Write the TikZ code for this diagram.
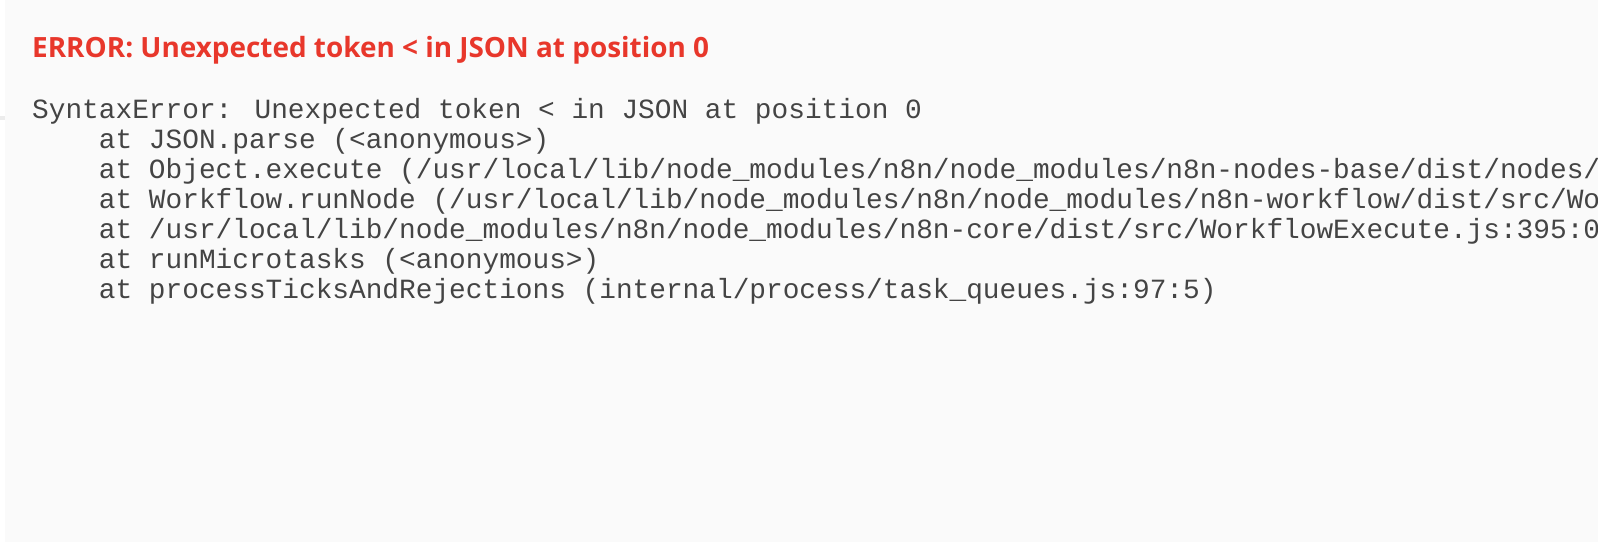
\documentclass[tikz,border=0pt]{standalone}
\usepackage{fontspec}
\setmainfont{Open Sans}
\newfontfamily\codefont{Liberation Mono}
\definecolor{bg}{HTML}{FAFAFA}
\definecolor{errred}{HTML}{E8372B}
\definecolor{codegray}{HTML}{444444}
\begin{document}
\begin{tikzpicture}[x=1pt,y=-1pt,
  title/.style={anchor=base west,inner sep=0pt,text=errred,font=\fontsize{27.9}{32}\selectfont\bfseries},
  code/.style={anchor=base west,inner sep=0pt,text=codegray,font=\codefont\fontsize{27.8}{30}\selectfont}]
\useasboundingbox (0,0) rectangle (1598,542);
\clip (0,0) rectangle (1598,542);
\fill[bg] (0,0) rectangle (1598,542);
\fill[white] (0,0) rectangle (5,542);
\fill[gray!15] (0,116) rectangle (5,120);
\node[title] (t) at (32,57) {ERROR: Unexpected token < in JSON at position 0};
\node[code] (l1) at (32,118) {SyntaxError: Unexpected token < in JSON at position 0};
\node[code] (l2) at (32,148) {\ \ \ \ at JSON.parse (<anonymous>)};
\node[code] (l3) at (32,178) {\ \ \ \ at Object.execute (/usr/local/lib/node\_modules/n8n/node\_modules/n8n-nodes-base/dist/nodes/};
\node[code] (l4) at (32,208) {\ \ \ \ at Workflow.runNode (/usr/local/lib/node\_modules/n8n/node\_modules/n8n-workflow/dist/src/Workflow};
\node[code] (l5) at (32,238) {\ \ \ \ at /usr/local/lib/node\_modules/n8n/node\_modules/n8n-core/dist/src/WorkflowExecute.js:395:0};
\node[code] (l6) at (32,268) {\ \ \ \ at runMicrotasks (<anonymous>)};
\node[code] (l7) at (32,298) {\ \ \ \ at processTicksAndRejections (internal/process/task\_queues.js:97:5)};
\end{tikzpicture}
\end{document}
